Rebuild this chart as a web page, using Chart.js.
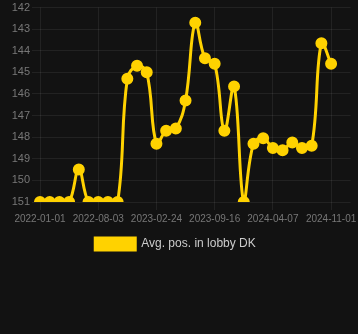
<!DOCTYPE html>
<html>
<head>
<meta charset="utf-8">
<script src="https://cdn.jsdelivr.net/npm/chart.js@4/dist/chart.umd.min.js"></script>
<style>
html,body{margin:0;padding:0;background:#121212;}
#wrap{width:358px;height:334px;position:relative;}
</style>
</head>
<body>
<div id="wrap"><canvas id="c"></canvas></div>
<script>
const categories = [
  "2022-01-01","2022-02-05","2022-03-13","2022-04-18","2022-05-23","2022-06-28",
  "2022-08-03","2022-09-06","2022-10-10","2022-11-13","2022-12-17","2023-01-20",
  "2023-02-24","2023-03-30","2023-05-03","2023-06-06","2023-07-10","2023-08-13",
  "2023-09-16","2023-10-20","2023-11-23","2023-12-27","2024-01-30","2024-03-04",
  "2024-04-07","2024-05-12","2024-06-15","2024-07-20","2024-08-23","2024-09-27",
  "2024-11-01","2024-12-06","2025-01-10"
];
const avgPos = [
  151, 151, 151, 151, 149.5, 151,
  151, 151, 151, 145.3, 144.7, 145.0,
  148.3, 147.7, 147.6, 146.3, 142.7, 144.35,
  144.6, 147.7, 145.65, 151, 148.3, 148.05,
  148.5, 148.6, 148.25, 148.5, 148.4, 143.65,
  144.6, null, null
];
const yTicks = [142,143,144,145,146,147,148,149,150,151];
const labelEvery = 6;
const lastLabelled = 30;
const seriesName = "Avg. pos. in lobby DK";
const yellow = "#FFD200";

new Chart(document.getElementById('c'), {
  type: 'line',
  data: {
    labels: categories,
    datasets: [{
      label: seriesName,
      data: avgPos,
      borderColor: yellow,
      backgroundColor: yellow,
      pointBackgroundColor: yellow,
      pointBorderColor: yellow,
      borderWidth: 3,
      pointRadius: 4.5,
      tension: 0.4,
      spanGaps: false
    }]
  },
  options: {
    responsive: true,
    maintainAspectRatio: false,
    animation: false,
    layout: { padding: { left: 0, right: 7, top: 0, bottom: 74 } },
    plugins: {
      legend: {
        position: 'bottom',
        labels: {
          color: '#cccccc',
          boxWidth: 40,
          boxHeight: 12,
          padding: 10,
          font: { family: "'Liberation Sans', Arial, sans-serif", size: 12 }
        }
      },
      tooltip: { enabled: false }
    },
    scales: {
      x: {
        type: 'category',
        offset: false,
        grid: {
          color: (ctx) => (ctx.index % labelEvery === 0 && ctx.index <= lastLabelled) ? 'rgba(255,255,255,0.07)' : 'rgba(0,0,0,0)',
          tickLength: 8
        },
        border: { display: false },
        ticks: {
          autoSkip: false,
          maxRotation: 0,
          minRotation: 0,
          color: '#777777',
          font: { family: "'Liberation Sans', Arial, sans-serif", size: 10 },
          callback: function(v, i) { return (i % labelEvery === 0 && i <= lastLabelled) ? categories[i] : ''; }
        }
      },
      y: {
        reverse: true,
        min: yTicks[0],
        max: yTicks[yTicks.length - 1],
        afterBuildTicks: (axis) => { axis.ticks = yTicks.map(v => ({ value: v })); },
        afterFit: (axis) => { axis.width = 40; },
        grid: { color: 'rgba(255,255,255,0.07)', tickLength: 8 },
        border: { display: false },
        ticks: {
          color: '#777777',
          padding: 2,
          font: { family: "'Liberation Sans', Arial, sans-serif", size: 11, lineHeight: 1.0 }
        }
      }
    }
  }
});
</script>
</body>
</html>
